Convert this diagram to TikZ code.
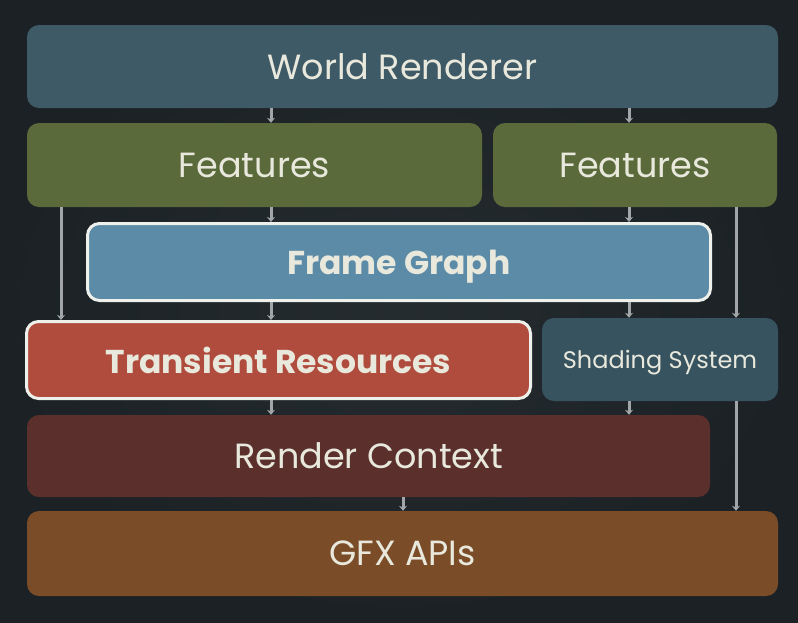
\documentclass[tikz,border=0pt]{standalone}
\usepackage{fontspec}
\setmainfont{Poppins}
\usetikzlibrary{arrows.meta}
\definecolor{bgc}{HTML}{1B2125}
\definecolor{bgin}{HTML}{252C30}
\definecolor{wrc}{HTML}{3E5A66}
\definecolor{fec}{HTML}{5A6A3A}
\definecolor{fgc}{HTML}{5C8BA7}
\definecolor{trc}{HTML}{B04C3E}
\definecolor{ssc}{HTML}{37535F}
\definecolor{rcc}{HTML}{5A2F2C}
\definecolor{gfc}{HTML}{7B4C28}
\definecolor{arc}{HTML}{A2A6A8}
\definecolor{txc}{HTML}{E8E8DC}
\definecolor{bdc}{HTML}{EEF0EC}
\tikzset{
  blk/.style={rectangle, rounded corners=12pt, inner sep=0pt, text=txc,
    font=\fontsize{35}{35}\selectfont},
  hl/.style={blk, draw=bdc, line width=3pt, font=\fontsize{33}{33}\selectfont\bfseries},
  arr/.style={draw=arc, line width=3pt, -{Stealth[length=5pt,width=8pt]}}
}
\begin{document}
\begin{tikzpicture}[x=1pt,y=-1pt]
\shade[inner color=bgin, outer color=bgc] (0,0) rectangle (798,622);
\useasboundingbox (0,0) rectangle (798,622);
\node[blk, fill=wrc, minimum width=751pt, minimum height=83pt] (wr) at (402.5,66.5) {World Renderer};
\node[blk, fill=fec, minimum width=455pt, minimum height=84pt] (fl) at (254.5,165) {Features};
\node[blk, fill=fec, minimum width=284pt, minimum height=84pt] (fr) at (635,165) {Features};
\node[hl, fill=fgc, minimum width=623pt, minimum height=77pt] (fg) at (399,262) {\raisebox{-12.5pt}[0pt][0pt]{Frame Graph}};
\node[hl, fill=trc, minimum width=504pt, minimum height=77pt] (tr) at (278.5,360) {Transient Resources};
\node[blk, fill=ssc, minimum width=236pt, minimum height=83pt, font=\fontsize{24}{24}\selectfont] (ss) at (660,359.5) {\raisebox{-9pt}[0pt][0pt]{Shading System}};
\node[blk, fill=rcc, minimum width=683pt, minimum height=82pt] (rc) at (368.5,456) {Render Context};
\node[blk, fill=gfc, minimum width=751pt, minimum height=85pt] (gfx) at (402.5,553.5) {GFX APIs};
\draw[arr] (wr.south -| 271,0) -- (fl.north -| 271,0);
\draw[arr] (wr.south -| 629,0) -- (fr.north -| 629,0);
\draw[arr] (fl.south -| 271,0) -- (fg.north -| 271,0);
\draw[arr] (fr.south -| 629,0) -- (fg.north -| 629,0);
\draw[arr] (fl.south -| 61,0) -- (tr.north -| 61,0);
\draw[arr] (fr.south -| 736,0) -- (ss.north -| 736,0);
\draw[arr] (ss.south -| 736,0) -- (gfx.north -| 736,0);
\draw[arr] (fg.south -| 271,0) -- (tr.north -| 271,0);
\draw[arr] (fg.south -| 629,0) -- (ss.north -| 629,0);
\draw[arr] (tr.south -| 271,0) -- (rc.north -| 271,0);
\draw[arr] (ss.south -| 629,0) -- (rc.north -| 629,0);
\draw[arr] (rc.south -| 403,0) -- (gfx.north -| 403,0);
\end{tikzpicture}
\end{document}
